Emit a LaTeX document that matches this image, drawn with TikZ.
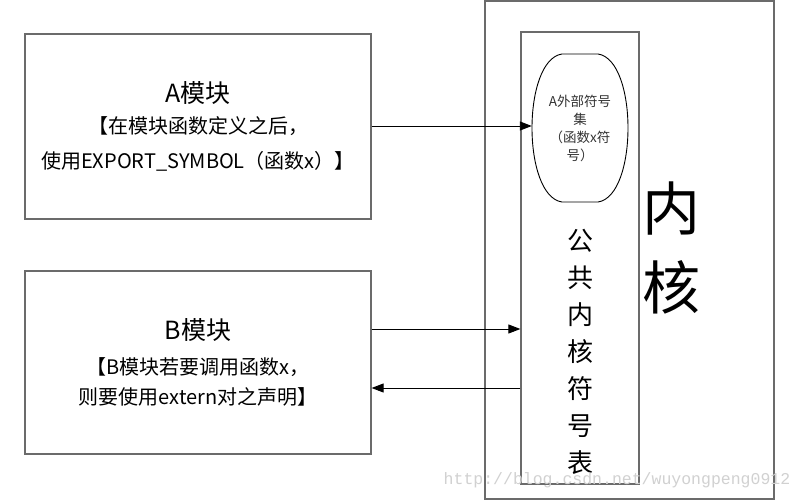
\documentclass[tikz,border=0pt]{standalone}
\usepackage{fontspec}
\newfontfamily\cjk{Noto Sans CJK SC}
\newfontfamily\wmfont{Liberation Mono}
\usetikzlibrary{arrows.meta}
\definecolor{boxgray}{rgb}{0.42,0.42,0.42}
\definecolor{wmgray}{rgb}{0.82,0.82,0.82}
\begin{document}
\begin{tikzpicture}[x=1pt,y=-1pt,
  modbox/.style={draw=boxgray, line width=1.2pt, minimum width=346pt, inner sep=0pt, align=center, font=\cjk\fontsize{20}{32}\selectfont},
  frame/.style={draw=boxgray, line width=1.2pt, inner sep=0pt},
  arr/.style={-{Triangle[length=12pt,width=9pt]}, line width=0.9pt, draw=black},
  label/.style={inner sep=0pt, align=center}]
\useasboundingbox (0,0) rectangle (800,500);
\fill[white] (0,0) rectangle (800,500);
% kernel outer box
\node[frame, minimum width=289pt, minimum height=498pt] (kernel) at (629.5,250) {};
\node[label, font=\cjk\fontsize{58}{79}\selectfont] (kerneltext) at (671,247.5) {内\\核};
% symbol table box
\node[frame, minimum width=118pt, minimum height=452pt] (symtab) at (580,258) {};
\node[label, font=\cjk\fontsize{26}{37}\selectfont] (symtext) at (580,351.5) {公\\共\\内\\核\\符\\号\\表};
% exported symbol set shape
\draw[black, line width=0.9pt] (562,54) -- (598,54) .. controls (638,60) and (638,196) .. (598,202) -- (562,202) .. controls (522,196) and (522,60) .. (562,54);
\node[label, minimum width=96pt, minimum height=148pt, font=\cjk\fontsize{13.5}{18}\selectfont, text=black!80] (ext) at (580,128) {A外部符号\\集\\（函数x符\\号）};
% modules
\node[modbox, minimum height=185pt] (Abox) at (198,126.5) {{\fontsize{25}{32}\selectfont A模块}\\[-1pt]【在模块函数定义之后，\\[3pt]使用EXPORT\_SYMBOL（函数x）】};
\node[modbox, minimum height=183pt] (Bbox) at (198,362.5) {{\fontsize{25}{32}\selectfont B模块}\\[3pt]【B模块若要调用函数x，\\[-2pt]则要使用extern对之声明】};
% connectors
\coordinate (a1) at ([yshift=0.5pt]Abox.east);
\coordinate (b1) at ([yshift=33.5pt]Bbox.east);
\coordinate (b2) at ([yshift=-25.5pt]Bbox.east);
\draw[arr] (a1) -- (a1 -| ext.west);
\draw[arr] (b1) -- (b1 -| symtab.west);
\draw[arr] (b2 -| symtab.west) -- (b2);
% watermark
\node[label, font=\wmfont\fontsize{16.5}{20}\selectfont, text=wmgray] (wm) at (617,480) {http://blog.csdn.net/wuyongpeng0912};
\end{tikzpicture}
\end{document}
